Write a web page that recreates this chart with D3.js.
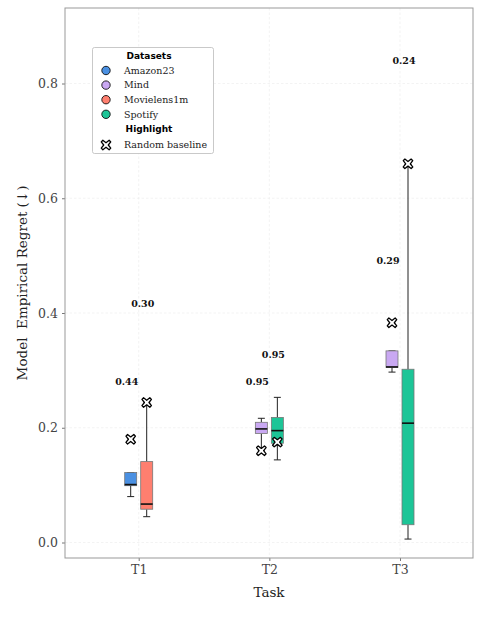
<!DOCTYPE html>
<html><head><meta charset="utf-8">
<script src="https://cdn.jsdelivr.net/npm/d3@7"></script>
<style>body{margin:0;background:#fff}svg{display:block}</style>
</head><body>
<svg id="c" width="479" height="637"></svg>
<script>
const tasks = ["T1","T2","T3"];
const datasets = ["Amazon23","Mind","Movielens1m","Spotify"];
const datasetColors = ["#4A90E2","#C9A8F2","#FF7F6F","#1DC597"];
const yTicks = [0.0,0.2,0.4,0.6,0.8];

const boxTask    = ["T1","T1","T2","T2","T3","T3"];
const boxDataset = ["Amazon23","Movielens1m","Mind","Spotify","Mind","Spotify"];
const boxMin = [0.080,0.045,0.161,0.144,0.297,0.006];
const boxQ1  = [0.099,0.058,0.190,0.173,0.305,0.031];
const boxMed = [0.101,0.067,0.198,0.195,0.306,0.208];
const boxQ3  = [0.122,0.141,0.2095,0.218,0.334,0.302];
const boxMax = [0.122,0.243,0.2165,0.253,0.334,0.659];
const baseline = [0.180,0.244,0.160,0.175,0.383,0.660];
const labelText = ["0.44","0.30","0.95","0.95","0.29","0.24"];
const labelVal  = [0.280,0.417,0.280,0.328,0.492,0.839];

const svg = d3.select("#c");
const L=65,R=473,T=8,B=558;
const x = d3.scalePoint().domain(tasks).range([138.7,400]);
const y = d3.scaleLinear().domain([-0.027,0.9316]).range([B,T]);
const color = d3.scaleOrdinal().domain(datasets).range(datasetColors);
const side = d => (d==="Amazon23"||d==="Mind") ? -1 : 1;
const off = 8, bw = 12, cw = 7;

// grid
const g = svg.append("g");
g.selectAll(".gy").data(yTicks).join("line")
  .attr("x1",L).attr("x2",R).attr("y1",d=>y(d)).attr("y2",d=>y(d))
  .attr("stroke","#ebebeb").attr("stroke-width",0.6).attr("stroke-dasharray","2.5,2");
g.selectAll(".gx").data(tasks).join("line")
  .attr("x1",d=>x(d)).attr("x2",d=>x(d)).attr("y1",T).attr("y2",B)
  .attr("stroke","#ebebeb").attr("stroke-width",0.6).attr("stroke-dasharray","2.5,2");

// axes
const ya = svg.append("g").attr("transform",`translate(${L},0)`)
  .call(d3.axisLeft(y).tickValues(yTicks).tickFormat(d3.format(".1f")).tickSize(3).tickPadding(4));
const xa = svg.append("g").attr("transform",`translate(0,${B})`)
  .call(d3.axisBottom(x).tickSize(3).tickPadding(4));
[ya,xa].forEach(a=>{
  a.select(".domain").remove();
  a.selectAll("line").attr("stroke","#777");
  a.selectAll("text").attr("font-family","DejaVu Serif").attr("font-size",12.5).attr("fill","#444");
});
svg.append("rect").attr("x",L).attr("y",T).attr("width",R-L).attr("height",B-T)
  .attr("fill","none").attr("stroke","#999").attr("stroke-width",1);

// boxes
const idx = d3.range(boxTask.length);
const cx = i => x(boxTask[i]) + side(boxDataset[i])*off;
const bg = svg.append("g");
idx.forEach(i=>{
  const c = cx(i);
  bg.append("line").attr("x1",c).attr("x2",c).attr("y1",y(boxQ3[i])).attr("y2",y(boxMax[i])).attr("stroke","#222").attr("stroke-width",1);
  bg.append("line").attr("x1",c).attr("x2",c).attr("y1",y(boxQ1[i])).attr("y2",y(boxMin[i])).attr("stroke","#222").attr("stroke-width",1);
  [boxMin[i],boxMax[i]].forEach(v=>{
    bg.append("line").attr("x1",c-cw/2).attr("x2",c+cw/2).attr("y1",y(v)).attr("y2",y(v)).attr("stroke","#222").attr("stroke-width",1);
  });
  bg.append("rect").attr("x",c-bw/2).attr("width",bw)
    .attr("y",y(boxQ3[i])).attr("height",Math.max(1,y(boxQ1[i])-y(boxQ3[i])))
    .attr("fill",color(boxDataset[i])).attr("stroke","#777").attr("stroke-width",0.8);
  bg.append("line").attr("x1",c-bw/2).attr("x2",c+bw/2).attr("y1",y(boxMed[i])).attr("y2",y(boxMed[i]))
    .attr("stroke","#111").attr("stroke-width",1.6);
});

// X marker
function xPath(s){
  const a=s/2, w=s*0.17;
  const pts=[[0,-w*1.414],[a-w,-a],[a,-a+w],[w*1.414,0],[a,a-w],[a-w,a],[0,w*1.414],[-a+w,a],[-a,a-w],[-w*1.414,0],[-a,-a+w],[-a+w,-a]];
  return "M"+pts.map(p=>p.join(",")).join("L")+"Z";
}
svg.append("g").selectAll("path").data(idx).join("path")
  .attr("d",xPath(9.5)).attr("transform",i=>`translate(${cx(i)},${y(baseline[i])})`)
  .attr("fill","#fff").attr("stroke","#000").attr("stroke-width",1.3).attr("stroke-linejoin","round");

// labels
svg.append("g").selectAll("text").data(idx).join("text")
  .attr("x",i=>cx(i)-4).attr("y",i=>y(labelVal[i])).attr("dy","0.35em")
  .attr("text-anchor","middle").attr("font-family","DejaVu Serif").attr("font-weight","bold")
  .attr("font-size",9.5).attr("fill","#111").text(i=>labelText[i]);

// axis titles
svg.append("text").attr("transform",`translate(27,${(T+B)/2}) rotate(-90)`).attr("text-anchor","middle")
  .attr("font-family","DejaVu Serif").attr("font-size",13.5).attr("fill","#222").attr("xml:space","preserve")
  .text("Model  Empirical Regret (\u2193)");
svg.append("text").attr("x",(L+R)/2).attr("y",597).attr("text-anchor","middle")
  .attr("font-family","DejaVu Serif").attr("font-size",13.5).attr("fill","#222").text("Task");

// legend
const lg = svg.append("g");
lg.append("rect").attr("x",92.5).attr("y",47.5).attr("width",121).attr("height",106).attr("rx",2)
  .attr("fill","#fff").attr("stroke","#bbb").attr("stroke-width",0.8);
const hdr = (t,yy)=>lg.append("text").attr("x",149).attr("y",yy).attr("text-anchor","middle").attr("dy","0.35em")
  .attr("font-family","DejaVu Sans").attr("font-weight","bold").attr("font-size",9).attr("fill","#000").text(t);
hdr("Datasets",56);
datasets.forEach((d,i)=>{
  const yy = 70.5 + i*14.6;
  lg.append("circle").attr("cx",106).attr("cy",yy).attr("r",4.2).attr("fill",color(d)).attr("stroke","#111").attr("stroke-width",0.9);
  lg.append("text").attr("x",124).attr("y",yy).attr("dy","0.35em").attr("font-family","DejaVu Serif")
    .attr("font-size",9.5).attr("fill","#222").text(d);
});
hdr("Highlight",129);
lg.append("path").attr("d",xPath(9.5)).attr("transform","translate(106,145)")
  .attr("fill","#fff").attr("stroke","#000").attr("stroke-width",1.3).attr("stroke-linejoin","round");
lg.append("text").attr("x",124).attr("y",145).attr("dy","0.35em").attr("font-family","DejaVu Serif")
  .attr("font-size",9.5).attr("fill","#222").text("Random baseline");
</script>
</body></html>
